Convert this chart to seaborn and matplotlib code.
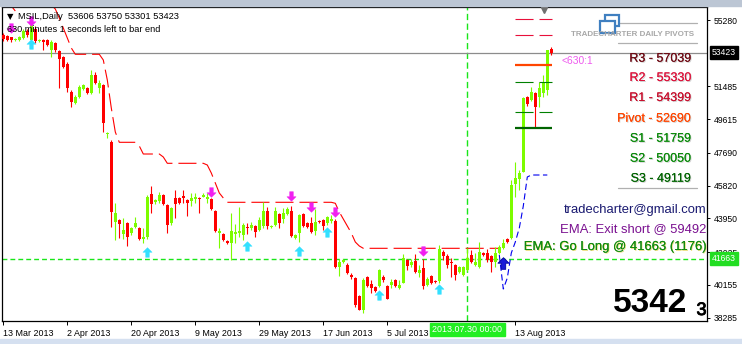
import numpy as np
import pandas as pd
import matplotlib
matplotlib.use("Agg")
import matplotlib.pyplot as plt
import matplotlib.transforms as mtrans
import matplotlib.patheffects as pe
from matplotlib.path import Path
from matplotlib.patches import Rectangle
import seaborn as sns

# ---------------- data ----------------
opens = [54424, 54367, 54293, 54138, 54155, 54253, 54669, 54155, 54784, 54081,
         54138, 54138, 53568, 53950, 53510, 53185, 52751, 51187, 50559, 50867,
         51324, 51381, 51096, 52140, 51415, 51570, 48760, 48332, 43765, 43862,
         43046, 43708, 43103, 43479, 43388, 42760, 42874, 45347, 44873, 44947,
         45289, 44718, 43674, 45101, 45101, 45232, 45004, 44947, 45044, 45135,
         45193, 45044, 45044, 44393, 43137, 43046, 42663, 42531, 43046, 43103,
         43006, 43480, 43388, 43537, 43291, 43520, 44393, 43463, 43577, 44205,
         43902, 44205, 44376, 42852, 43103, 44205, 43708, 43708, 43251, 43822,
         43862, 43674, 43805, 43805, 41162, 41446, 41293, 40722, 40533, 39523,
         38724, 40591, 40208, 40020, 40094, 40626, 40094, 40151, 40437, 39963,
         40283, 41579, 41293, 41522, 40819, 41104, 40151, 40665, 40397, 40397,
         42053, 41807, 41481, 41293, 40911, 40722, 41008, 41864, 41293, 41196,
         41996, 41996, 41807, 41481, 41960, 42264, 42778, 42817, 45918, 46185,
         46620, 50867, 50713, 51095, 50901, 51096, 51284, 53606]
highs = [54538, 54441, 54338, 54253, 54350, 54750, 54750, 55166, 54938, 54170,
         54195, 54167, 54110, 54024, 53568, 53225, 52882, 51284, 50999, 51541,
         51627, 51455, 52426, 52329, 51855, 51627, 48903, 48429, 44815, 43919,
         43959, 43765, 43463, 44051, 43463, 43388, 45289, 45820, 45061, 45478,
         45347, 44775, 44604, 45575, 45175, 45575, 45061, 45386, 45386, 45175,
         45386, 45386, 45090, 44433, 43388, 43092, 42720, 44279, 43617, 44622,
         43691, 43674, 43765, 43605, 44034, 44907, 44622, 43577, 44622, 44262,
         44529, 44622, 44661, 43063, 44205, 44262, 43765, 44051, 44473, 43862,
         43919, 44091, 44148, 43919, 41618, 41636, 41389, 40853, 40580, 39580,
         40533, 40637, 40437, 40066, 41065, 40722, 40151, 40477, 40477, 40437,
         41921, 41636, 41618, 41921, 41293, 41618, 40625, 40722, 40437, 42418,
         42149, 41904, 41675, 41350, 41236, 41264, 42264, 42178, 41960, 42624,
         42035, 42189, 41864, 42338, 42435, 42760, 42834, 46146, 47191, 46717,
         50884, 50941, 51472, 51170, 51758, 52140, 53568, 53750]
lows = [54081, 54064, 54024, 54081, 54064, 54195, 54300, 54081, 53967, 54050,
        53568, 53796, 53185, 53470, 51381, 52523, 51187, 50331, 50485, 50827,
        51284, 51027, 51055, 51627, 51130, 48903, 48526, 43479, 42720, 42817,
        42760, 42378, 43034, 43405, 42720, 42532, 42806, 44245, 44804, 44816,
        44718, 43138, 43577, 43959, 44804, 44816, 44108, 44678, 44816, 44245,
        45147, 44816, 44433, 43205, 42246, 42663, 42492, 41579, 42531, 42909,
        42720, 43046, 43291, 42908, 43234, 43388, 43331, 43377, 43520, 43423,
        43708, 44148, 42874, 42778, 42624, 43491, 43388, 43103, 43006, 43691,
        43291, 43577, 43674, 41104, 40665, 41407, 40762, 40477, 38896, 38696,
        38570, 40037, 39713, 39780, 40054, 40340, 39335, 39963, 40054, 39923,
        40248, 41008, 41162, 40819, 40625, 39906, 40094, 40236, 40265, 40248,
        41579, 41104, 40624, 40437, 40837, 40665, 40951, 41407, 41236, 41122,
        41807, 41481, 40911, 41196, 41921, 42207, 42575, 42778, 45193, 45575,
        46574, 50370, 50656, 49097, 50331, 50901, 50999, 53301]
closes = [54195, 54138, 54121, 54195, 54293, 54669, 54407, 54978, 54064, 54138,
          54041, 53853, 54041, 53568, 53054, 52614, 51415, 50616, 50902, 51472,
          51570, 51096, 52140, 51701, 51667, 49383, 48790, 44336, 44245, 43634,
          43291, 42874, 43388, 43708, 42760, 42909, 45193, 44758, 45004, 45289,
          44775, 43577, 44530, 44758, 44850, 45101, 44816, 45135, 45158, 45044,
          45289, 45193, 44473, 43251, 43251, 42720, 42531, 43234, 43194, 43251,
          43577, 43388, 43577, 43194, 43862, 44393, 43520, 43520, 44393, 43708,
          44245, 44490, 42966, 43006, 44148, 43537, 43480, 43160, 43765, 43731,
          43520, 44017, 43902, 41196, 41481, 41579, 40819, 40625, 39010, 38724,
          40437, 40094, 39962, 39826, 41008, 40437, 39369, 40340, 40094, 40151,
          41675, 41236, 41447, 40911, 41008, 40094, 40476, 40283, 40306, 42189,
          41807, 41293, 41389, 40722, 41162, 41196, 41693, 41464, 41481, 42053,
          41864, 41579, 41481, 41978, 42338, 42549, 42624, 45860, 46277, 46562,
          50810, 50468, 51187, 50331, 51381, 51758, 53550, 53423]

date_tick_bars = [0, 16, 32, 48, 64, 80, 96, 128]
date_tick_labels = ["13 Mar 2013", "2 Apr 2013", "20 Apr 2013", "9 May 2013",
                    "29 May 2013", "17 Jun 2013", "5 Jul 2013", "13 Aug 2013"]
price_ticks = [55280, 51485, 49615, 47690, 45820, 43950, 42025, 40155, 38285]

stop_bars_a = [2, 3]
stop_vals_a = [56079, 55794]
stop_bars_b = list(range(12, 125))
stop_vals_b = ([56137, 55908, 55394, 54823, 54253, 53682] + [53322] * 7 +
               [52997, 51855, 50256, 48886] + [48298] * 5 + [48087] + [47630] * 5 +
               [47459] + [47099] * 10 + [47002, 46545, 45975, 45404, 45118] +
               [44873] * 27 + [44816, 44319, 43919, 43520, 43120, 42606, 42378] +
               [42246] * 35)

ema_bars = list(range(124, 137))
ema_vals = [41864, 39923, 40551, 41978, 42606, 43405, 44661, 46317,
            46431, 46431, 46431, 46431, 46431]

up_arrow_bars = [7, 36, 61, 74, 81, 94, 109]
up_arrow_vals = [53910, 42035, 42378, 42092, 43177, 39580, 39923]
down_arrow_bars = [2, 7, 52, 72, 77, 83, 105]
down_arrow_vals = [54823, 55223, 45461, 45232, 44576, 44319, 42092]
long_arrow_bar = [125]
long_arrow_val = [41393]

pivot_names = ["R3", "R2", "R1", "Pivot", "S1", "S2", "S3"]
pivot_vals = [57039, 55330, 54399, 52690, 51759, 50050, 49119]
pivot_colors = ["#6e0a14", "#dc143c", "#c8102e", "#ff4500", "#0a8a0a", "#0a8a0a", "#006400"]
pivot_line_start, pivot_line_end = 127.9, 137.1

last_price = 53423
entry_price = 41663
entry_bar = 116
exit_short = 59492
long_count = 1176

# ---------------- style ----------------
sns.set_theme(style="white")
plt.rcParams['font.family'] = ['Liberation Sans', 'DejaVu Sans']
plt.rcParams['lines.scale_dashes'] = False

W, H = 742, 344
fig = plt.figure(figsize=(W / 100, H / 100), dpi=100)
fig.patch.set_facecolor("white")

def fx(px):
    return px / W

def fy(py):
    return 1 - py / H

# window bands
fig.patches.append(Rectangle((0, fy(6)), 1, 6 / H, transform=fig.transFigure,
                             color="#bcc6d4", zorder=0))
fig.patches.append(Rectangle((0, 0), 1, 5 / H, transform=fig.transFigure,
                             color="#d5e0f0", zorder=0))

L, R, T, B = 2, 707, 7, 321
ax = fig.add_axes([fx(L), fy(B), (R - L) / W, (B - T) / H])
ax.set_facecolor("white")

# pixel mapping: x = 3.3 + 4*i ; v = 56422 - 57.09*y
ax.set_xlim((L - 3.3) / 4, (R - 3.3) / 4)
ax.set_ylim(56422 - 57.09 * B, 56422 - 57.09 * T)

BULL, BEAR = "#7cfc00", "#ff0000"
df = pd.DataFrame({"bar": np.arange(len(opens)), "open": opens, "high": highs,
                   "low": lows, "close": closes})
df["up"] = df["close"] >= df["open"]
cols = np.where(df["up"], BULL, BEAR)

# crosshair lines
CROSS = "#19e619"
ax.axvline(entry_bar, color=CROSS, lw=1.0, linestyle=(0, (4.5, 2.5)), zorder=1)
ax.axhline(entry_price, color=CROSS, lw=1.0, linestyle=(0, (3.5, 2.2)), zorder=1)
# current price line
ax.axhline(last_price, color="#8c8c8c", lw=0.9, zorder=1)

# candles
ax.vlines(df["bar"], df["low"], df["high"], colors=cols, lw=0.8, zorder=3)
body_bottom = np.minimum(df["open"], df["close"])
body_h = np.maximum(np.abs(df["close"] - df["open"]), 60)
ax.bar(df["bar"], body_h, bottom=body_bottom, width=0.78, color=cols,
       linewidth=0, zorder=3)

# trailing stop (red dashed)
stop_dash = (0, (13, 4.3))
sns.lineplot(x=stop_bars_a, y=stop_vals_a, ax=ax, color="#ff0000", lw=0.8,
             linestyle=stop_dash, sort=False, estimator=None, zorder=2)
sns.lineplot(x=stop_bars_b, y=stop_vals_b, ax=ax, color="#ff0000", lw=0.8,
             linestyle=stop_dash, sort=False, estimator=None, zorder=2)

# EMA (blue dashed)
sns.lineplot(x=ema_bars, y=ema_vals, ax=ax, color="#0000ee", lw=0.8,
             linestyle=(0, (4.5, 2.5)), sort=False, estimator=None, zorder=2)

# pivot lines
for name, val in zip(pivot_names, pivot_vals):
    if name == "Pivot":
        ax.hlines(val, pivot_line_start, pivot_line_end, color="#ff4500", lw=1.6, zorder=4)
    elif name == "S3":
        ax.hlines(val, pivot_line_start, pivot_line_end, color="#006400", lw=1.6, zorder=4)
    elif name.startswith("R"):
        ax.hlines(val, pivot_line_start, pivot_line_end, color="#e8103a", lw=0.8,
                  linestyle=stop_dash, zorder=4)
    else:
        ax.hlines(val, pivot_line_start, pivot_line_end, color="#008000", lw=0.8,
                  linestyle=stop_dash, zorder=4)

# arrows
uv = [(0, 1), (0.95, 0.05), (0.38, 0.05), (0.38, -1), (-0.38, -1), (-0.38, 0.05),
      (-0.95, 0.05), (0, 1)]
codes = [Path.MOVETO] + [Path.LINETO] * 6 + [Path.CLOSEPOLY]
up_arrow = Path(uv, codes)
down_arrow = Path([(a, -b) for a, b in uv], codes)
sns.scatterplot(x=up_arrow_bars, y=up_arrow_vals, ax=ax, marker=up_arrow, s=48,
                color="#33e0ff", edgecolor="#33e0ff", linewidth=0.3, zorder=5)
sns.scatterplot(x=down_arrow_bars, y=down_arrow_vals, ax=ax, marker=down_arrow, s=48,
                color="#f020f0", edgecolor="#f020f0", linewidth=0.3, zorder=5)
sns.scatterplot(x=long_arrow_bar, y=long_arrow_val, ax=ax, marker=up_arrow, s=70,
                color="#1a1ad8", edgecolor="#0000a0", linewidth=0.6, zorder=6)

# spines / ticks
for sp in ax.spines.values():
    sp.set_visible(True)
    sp.set_color("black")
    sp.set_linewidth(0.9)
ax.yaxis.tick_right()
ax.set_yticks(price_ticks)
ax.set_yticklabels([str(v) for v in price_ticks])
ax.set_xticks(date_tick_bars)
ax.set_xticklabels(date_tick_labels)
ax.tick_params(axis="y", which="both", right=True, left=False, direction="out",
               length=2.5, width=0.7, pad=2.5, labelsize=6.2, colors="black")
ax.tick_params(axis="x", which="both", bottom=True, direction="out", length=3,
               width=0.7, pad=2.5, labelsize=6.4, colors="black")
for lbl in ax.get_xticklabels():
    lbl.set_ha("left")
ax.set_xlabel("")
ax.set_ylabel("")
ax.grid(False)

# axis price labels
ty = mtrans.blended_transform_factory(fig.transFigure, ax.transData)
ax.text(fx(712), last_price, str(last_price), transform=ty, fontsize=6.2, color="white",
        va="center", ha="left", clip_on=False, zorder=10,
        bbox=dict(boxstyle="square,pad=0.25", fc="black", ec="black"))
ax.text(fx(712), entry_price, str(entry_price), transform=ty, fontsize=6.2, color="white",
        va="center", ha="left", clip_on=False, zorder=10,
        bbox=dict(boxstyle="square,pad=0.25", fc="#22dd22", ec="#22dd22"))
tx = mtrans.blended_transform_factory(ax.transData, fig.transFigure)
ax.text(entry_bar, fy(329.5), "2013.07.30 00:00", transform=tx, fontsize=6.4,
        color="white", va="center", ha="center", clip_on=False, zorder=10,
        bbox=dict(boxstyle="square,pad=0.25", fc="#22ee22", ec="#22ee22"))

# marker triangles
ax.plot([(544 - 3.3) / 4], [56422 - 57.09 * 9.5], marker="v", ms=4.5, color="#707070",
        clip_on=False, zorder=10)

# header texts
fig.text(fx(6.5), fy(19), "\u25BC", fontsize=6, color="black", va="baseline",
         family="DejaVu Sans")
fig.text(fx(18.5), fy(19), "MSIL,Daily  53606 53750 53301 53423", fontsize=6.7,
         color="black", va="baseline")
fig.text(fx(7), fy(31.7), "630 minutes 1 seconds left to bar end", fontsize=6.6,
         color="black", va="baseline")

# logo + title block
fig.patches.append(Rectangle((fx(605), fy(26)), 14 / W, 11 / H, transform=fig.transFigure,
                             fc="white", ec="#3f7fc0", lw=1.6, zorder=5))
fig.patches.append(Rectangle((fx(600), fy(33)), 15 / W, 12 / H, transform=fig.transFigure,
                             fc="white", ec="#3f7fc0", lw=1.6, zorder=6))
fig.text(fx(633), fy(36), "TRADECHARTER DAILY PIVOTS", fontsize=5.8, fontweight="bold",
         color="#a8a8a8", ha="center", va="baseline", zorder=7)
for yy in (23.3, 43.3, 188.3):
    fig.add_artist(plt.Line2D([fx(618), fx(697)], [fy(yy), fy(yy)], color="#b0b0b0", lw=0.9))

fig.text(fx(561.5), fy(64), "<630:1", fontsize=7.4, color="#ee5aee", va="baseline")

shadow = [pe.withSimplePatchShadow(offset=(0.7, -0.7), shadow_rgbFace="#b0b0b0", alpha=0.6),
          pe.Normal()]
baselines = [61.7, 81, 101, 121.7, 141.7, 161.7, 181.7]
for name, val, col, by in zip(pivot_names, pivot_vals, pivot_colors, baselines):
    fig.text(fx(691), fy(by), f"{name} - {val}", fontsize=9, color=col,
             ha="right", va="baseline", path_effects=shadow)

fig.text(fx(706), fy(213), "tradecharter@gmail.com", fontsize=9.4, color="#191970",
         ha="right", va="baseline")
fig.text(fx(706), fy(231.7), f"EMA: Exit short @ {exit_short}", fontsize=9.4,
         color="#7a1090", ha="right", va="baseline")
fig.text(fx(706), fy(250), f"EMA: Go Long @ {entry_price} ({long_count})", fontsize=9.4,
         color="#108a10", ha="right", va="baseline",
         path_effects=[pe.withSimplePatchShadow(offset=(0.6, -0.6), shadow_rgbFace="#e0d040",
                                                alpha=0.7), pe.Normal()])

fig.text(fx(687.5), fy(311.7), "5342", fontsize=24, fontweight="bold", color="black",
         ha="right", va="baseline")
fig.text(fx(706.5), fy(315), "3", fontsize=13, color="black", ha="right", va="baseline",
         path_effects=[pe.withStroke(linewidth=0.6, foreground="black")])

fig.savefig("out.png", dpi=100, facecolor=fig.get_facecolor())
